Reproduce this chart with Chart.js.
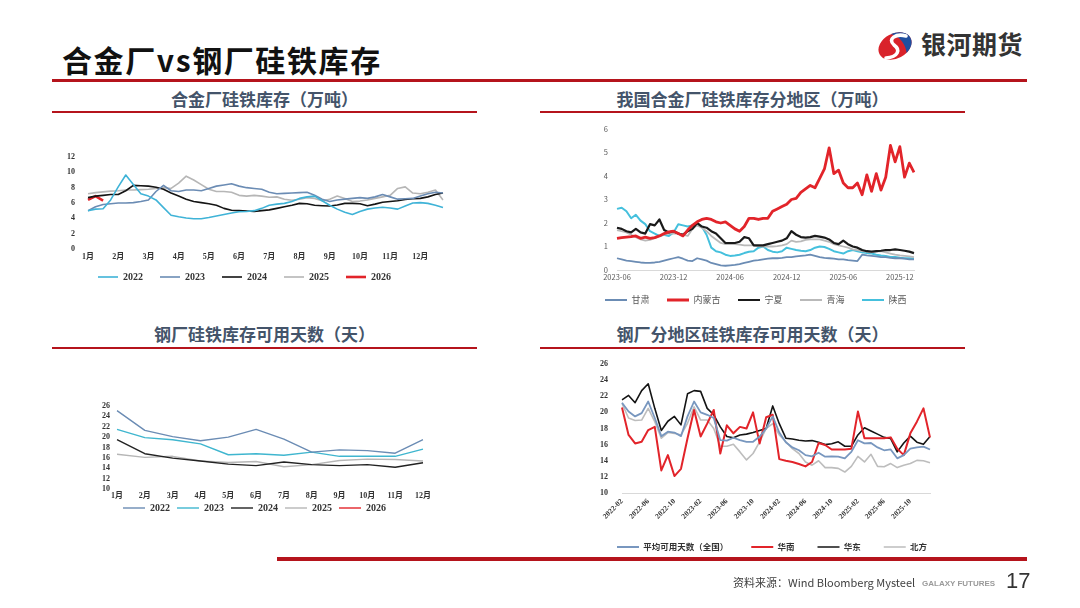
<!DOCTYPE html>
<html><head><meta charset="utf-8">
<script src="https://cdn.jsdelivr.net/npm/chart.js@4.4.1/dist/chart.umd.min.js"></script>
<style>
html,body{margin:0;padding:0;background:#fff;}
#page{position:relative;width:1080px;height:608px;overflow:hidden;font-family:'Noto Sans CJK SC','Noto Sans',sans-serif;background:#fff;}
.title{position:absolute;left:62px;top:44px;font-size:30px;line-height:30px;font-weight:700;color:#111;letter-spacing:1.6px;white-space:nowrap;}
.rule{position:absolute;background:#b5141c;}
.sub{position:absolute;font-size:17px;line-height:20px;font-weight:700;color:#44546a;text-align:center;white-space:nowrap;}
.logoText{position:absolute;left:921px;top:30px;font-size:25px;line-height:26px;font-weight:700;color:#333;letter-spacing:0.5px;white-space:nowrap;}
.foot{position:absolute;top:574px;font-size:11px;line-height:16px;color:#404040;white-space:nowrap;}
canvas{position:absolute;}
</style></head>
<body><div id="page">
  <div class="title">合金厂vs钢厂硅铁库存</div>
  <div class="rule" style="left:52px;top:79px;width:975px;height:3px;"></div>
  <svg style="position:absolute;left:875px;top:28px;" width="40" height="36" viewBox="0 0 40 36">
    <g transform="rotate(-28 20 18)">
      <ellipse cx="20" cy="18" rx="17.5" ry="12.5" fill="#d9222a"/>
      <path d="M22 5.6 A17.5 12.5 0 0 1 37.5 18 A17.5 12.5 0 0 1 27 29.6 C30 22 29 12 22 5.6 Z" fill="#1f4f9f"/>
    </g>
    <path d="M31 8 C21 5 12 11 19 17 C26 22 23 29 11 30" stroke="#fff" stroke-width="3.6" fill="none" stroke-linecap="round"/>
  </svg>
  <div class="logoText">银河期货</div>

  <div class="sub" style="left:52px;top:89px;width:425px;">合金厂硅铁库存（万吨）</div>
  <div class="rule" style="left:52px;top:111px;width:425px;height:1.5px;"></div>
  <div class="sub" style="left:540px;top:89px;width:425px;">我国合金厂硅铁库存分地区（万吨）</div>
  <div class="rule" style="left:540px;top:111px;width:425px;height:1.5px;"></div>
  <div class="sub" style="left:52px;top:324px;width:425px;">钢厂硅铁库存可用天数（天）</div>
  <div class="rule" style="left:52px;top:347px;width:425px;height:1.5px;"></div>
  <div class="sub" style="left:540px;top:324px;width:425px;">钢厂分地区硅铁库存可用天数（天）</div>
  <div class="rule" style="left:540px;top:347px;width:425px;height:1.5px;"></div>

  <canvas id="c1" width="420" height="178" style="left:41px;top:132px;"></canvas>
  <canvas id="c2" width="365" height="226" style="left:575px;top:104px;"></canvas>
  <canvas id="c3" width="360" height="159" style="left:78px;top:381px;"></canvas>
  <canvas id="c4" width="375" height="236" style="left:585px;top:339px;"></canvas>

  <div class="rule" style="left:277px;top:557px;width:750px;height:4px;"></div>
  <div class="foot" style="left:733px;">资料来源：Wind Bloomberg Mysteel</div>
  <div class="foot" style="left:922px;top:576px;font-size:8px;font-weight:700;color:#9a9a9a;letter-spacing:0;font-family:'Liberation Sans',sans-serif;">GALAXY FUTURES</div>
  <div class="foot" style="left:1006px;top:569px;font-size:22px;line-height:24px;color:#333;font-family:'Liberation Sans',sans-serif;">17</div>
</div>
<script>
// ---------- Chart 1: 合金厂硅铁库存（万吨）, weekly ----------
const monthLabels = ['1月','2月','3月','4月','5月','6月','7月','8月','9月','10月','11月','12月'];
const weeksPerMonth = 4;
const inv2022 = [5.0,5.2,5.25,6.4,8.1,9.65,8.4,7.2,6.9,6.4,5.4,4.4,4.2,4.05,3.95,3.95,4.1,4.3,4.5,4.7,4.85,4.9,5.0,5.3,5.7,5.85,5.95,6.2,6.6,6.8,6.9,6.3,5.7,5.2,4.8,4.5,4.9,5.2,5.35,5.45,5.35,5.2,5.6,6.0,6.05,5.95,5.7,5.4];
const inv2023 = [5.0,5.5,5.8,5.9,6.0,6.0,6.05,6.2,6.4,7.5,8.3,7.6,7.5,7.7,7.7,7.6,7.9,8.2,8.35,8.5,8.2,8.0,7.9,7.8,7.4,7.2,7.25,7.3,7.35,7.4,7.0,6.5,6.2,6.4,6.5,6.6,6.7,6.6,6.8,7.1,6.8,6.5,6.55,6.6,6.9,7.2,7.4,7.3];
const inv2024 = [6.7,6.9,7.0,7.1,7.1,7.6,8.3,8.25,8.2,8.05,7.8,7.3,6.9,6.5,6.2,6.05,5.9,5.7,5.3,5.05,5.0,4.95,4.9,5.0,5.1,5.3,5.5,5.7,5.95,5.9,5.7,5.65,5.6,5.75,5.95,5.95,5.9,5.65,5.85,6.1,6.2,6.3,6.45,6.55,6.6,6.8,7.1,7.3];
const inv2025 = [7.2,7.35,7.45,7.55,7.6,7.7,7.7,7.75,7.8,7.9,8.0,7.9,8.6,9.5,9.0,8.4,7.8,7.5,7.5,7.4,7.0,6.9,7.0,6.9,6.75,6.8,6.5,6.35,6.5,6.7,6.6,6.3,6.5,6.9,6.6,6.2,6.25,6.4,6.6,6.8,7.0,7.9,8.1,7.3,7.2,7.4,7.7,6.4];
const inv2026 = [6.4,6.9,6.3];
const invYTicks = {min:0, max:12, step:2};

// ---------- Chart 2: 我国合金厂硅铁库存分地区（万吨）, half-monthly ----------
const regionStart = {year:2023, month:6};
const regionPoints = 64;
const regionTickLabels = ['2023-06','2023-12','2024-06','2024-12','2025-06','2025-12'];
const gansu = [0.5,0.45,0.4,0.38,0.35,0.32,0.3,0.3,0.32,0.35,0.4,0.45,0.5,0.55,0.48,0.4,0.38,0.5,0.45,0.4,0.3,0.25,0.2,0.18,0.2,0.22,0.25,0.3,0.35,0.4,0.42,0.45,0.48,0.5,0.5,0.52,0.55,0.55,0.58,0.6,0.62,0.65,0.6,0.55,0.52,0.5,0.48,0.45,0.45,0.42,0.4,0.38,0.65,0.62,0.6,0.58,0.55,0.55,0.52,0.5,0.5,0.48,0.45,0.45];
const neimenggu = [1.35,1.38,1.4,1.42,1.45,1.35,1.4,1.35,1.38,1.45,1.55,1.62,1.65,1.55,1.45,1.7,1.9,2.05,2.15,2.2,2.15,2.05,2.0,2.05,1.9,1.75,1.65,1.85,2.2,2.2,2.15,2.2,2.2,2.5,2.6,2.7,2.8,3.0,3.05,3.3,3.45,3.6,3.5,3.9,4.3,5.2,4.1,4.25,3.7,3.5,3.5,3.7,3.2,4.05,3.35,4.1,3.4,3.95,5.3,4.6,5.25,3.95,4.55,4.15];
const ningxia = [1.8,1.75,1.65,1.6,1.75,1.6,1.55,1.95,1.9,2.15,1.7,1.6,1.65,1.55,1.5,1.65,1.75,2.0,1.85,1.8,1.65,1.55,1.35,1.15,1.15,1.15,1.2,1.4,1.35,1.05,1.05,1.05,1.1,1.15,1.2,1.25,1.35,1.65,1.5,1.4,1.38,1.4,1.45,1.42,1.38,1.3,1.15,1.1,1.25,1.1,1.0,0.95,0.85,0.8,0.78,0.8,0.82,0.85,0.85,0.88,0.85,0.82,0.78,0.72];
const qinghai = [1.7,1.65,1.6,1.5,1.4,1.3,1.25,1.28,1.35,1.45,1.5,1.55,1.55,1.55,1.5,1.45,1.75,1.9,1.8,1.65,1.45,1.3,1.15,1.1,1.1,1.1,1.08,1.05,1.05,1.05,1.02,1.0,1.0,1.0,1.02,1.05,1.1,1.25,1.2,1.22,1.28,1.3,1.3,1.3,1.25,1.2,1.1,1.05,1.0,0.95,0.88,0.85,0.8,0.78,0.75,0.78,0.8,0.75,0.7,0.65,0.62,0.6,0.58,0.55];
const shaanxi = [2.6,2.65,2.5,2.2,2.35,2.1,1.95,1.65,1.55,1.45,1.5,1.45,1.6,1.95,1.9,1.85,1.9,1.9,1.85,1.5,0.95,0.8,0.75,0.65,0.6,0.62,0.65,0.72,0.78,0.8,0.95,1.0,0.85,0.78,0.75,0.8,0.95,0.9,0.85,0.82,0.8,0.85,0.95,1.0,0.98,0.9,0.8,0.75,0.7,0.8,0.85,0.8,0.75,0.72,0.7,0.65,0.62,0.6,0.55,0.55,0.52,0.5,0.5,0.48];
const regionYTicks = {min:0, max:6, step:1};

// ---------- Chart 3: 钢厂硅铁库存可用天数（天）, monthly ----------
const monthTickLabels = ['1月','2月','3月','4月','5月','6月','7月','8月','9月','10月','11月','12月'];
const days2022 = [25.1,21.3,20.1,19.3,20.0,21.5,19.6,17.1,17.55,17.4,16.9,19.5];
const days2023 = [21.5,19.9,19.5,18.7,16.6,16.8,16.5,17.1,16.3,16.3,16.3,17.7];
const days2024 = [19.5,16.8,15.95,15.4,14.8,14.5,15.2,14.7,14.5,14.7,14.2,15.05];
const days2025 = [16.7,16.1,16.3,15.4,15.1,15.3,14.3,14.7,15.5,15.75,15.7,15.4];
const days2026 = [];
const daysYTicks = {min:10, max:26, step:2};

// ---------- Chart 4: 钢厂分地区硅铁库存可用天数（天）, monthly 2022-02..2026-01 ----------
const areaStart = {year:2022, month:2};
const areaPoints = 48;
const areaNational = [21.2,20.1,19.5,19.9,21.35,19.3,17.05,17.6,17.5,17.05,19.5,21.35,20.0,19.7,19.3,16.55,16.5,16.85,16.55,16.35,16.35,17.0,18.0,19.5,17.5,16.3,15.65,15.3,14.7,14.55,15.0,14.5,14.55,14.5,14.3,15.1,16.55,16.15,16.2,15.65,15.3,15.4,14.3,14.7,15.5,15.65,15.75,15.4];
const areaSouth = [20.6,17.2,16.15,16.35,17.8,18.2,12.8,14.7,12.1,13.0,16.8,20.3,17.0,18.6,20.3,14.9,18.4,17.4,18.2,18.0,20.0,16.15,19.4,19.7,14.2,14.0,13.85,13.6,13.3,13.85,16.2,15.95,15.4,15.4,15.4,15.5,20.1,16.8,16.8,16.8,16.8,16.9,15.5,14.7,17.4,18.85,20.5,16.9];
const areaEast = [21.55,22.1,21.2,22.7,23.55,20.5,17.75,18.9,19.5,18.45,22.3,22.7,22.6,20.5,19.7,18.2,17.0,16.85,17.2,17.3,17.5,17.75,18.0,20.8,18.6,16.8,16.7,16.55,16.45,16.5,16.3,16.0,16.1,16.35,15.8,15.8,17.2,18.1,17.7,17.3,16.9,16.75,15.1,16.2,17.05,16.3,16.05,17.0];
const areaNorth = [21.1,19.3,19.0,19.05,20.5,18.85,16.8,17.5,17.4,17.2,18.65,20.7,19.05,19.05,18.0,15.8,15.8,16.05,15.1,14.1,14.9,16.35,18.0,18.6,17.2,16.35,15.5,14.9,13.85,13.45,14.0,13.15,13.15,13.05,12.6,13.3,14.55,13.85,14.8,13.3,13.25,13.65,13.15,13.45,13.65,14.05,14.0,13.75];
const areaYTicks = {min:10, max:26, step:2};

// ---------- colours ----------
const C_CYAN = '#3fb3d7', C_STEEL = '#6b8cb4', C_BLACK = '#141414', C_GRAY = '#b6b6b6', C_RED = '#e2242a';

// ---------- categories built from the lists above ----------
const weekCats = [];
monthLabels.forEach(m => { for (let w = 1; w <= weeksPerMonth; w++) weekCats.push(m + '第' + w + '周'); });
const pad2 = n => (n < 10 ? '0' : '') + n;
const regionCats = [];
for (let k = 0; k < regionPoints; k++) {
  const mIdx = regionStart.month - 1 + Math.floor(k / 2);
  const y = regionStart.year + Math.floor(mIdx / 12);
  regionCats.push(y + '-' + pad2(mIdx % 12 + 1) + (k % 2 ? '下' : '上'));
}
const areaCats = [];
for (let k = 0; k < areaPoints; k++) {
  const mIdx = areaStart.month - 1 + k;
  areaCats.push((areaStart.year + Math.floor(mIdx / 12)) + '-' + pad2(mIdx % 12 + 1));
}

const SERIF = "'Liberation Serif','Noto Sans CJK SC',serif";
const SANS = "'Noto Sans CJK SC','Liberation Sans',sans-serif";

// places the legend row: first item starts at x, text centred on y (canvas coords)
const legendPlacer = {
  id: 'legendPlacer',
  beforeDraw(chart, args, opts) {
    const lg = chart.legend;
    if (!lg || opts.x == null) return;
    const h = lg.height;
    lg.left = opts.x - opts.pad;
    lg.right = lg.left + 3000;
    lg.top = opts.y - opts.pad - opts.fs / 2;
    lg.bottom = lg.top + h;
  }
};

function ds(label, data, color, width) {
  return {label, data, borderColor: color, backgroundColor: color, borderWidth: width,
    pointRadius: 0, pointHoverRadius: 0, tension: 0, fill: false, borderJoinStyle: 'round'};
}

function makeChart(id, labels, datasets, o) {
  const cv = document.getElementById(id);
  const cl = parseFloat(cv.style.left), ct = parseFloat(cv.style.top);
  const padding = {top: o.area.top - ct, right: 5, left: 0, bottom: 5};
  o.yW = o.area.left - cl;
  const cfg = {
    type: 'line',
    data: {labels, datasets},
    plugins: [legendPlacer],
    options: {
      responsive: false, animation: false, events: [],
      layout: {padding},
      plugins: {
        tooltip: {enabled: false},
        legendPlacer: {x: o.legend.x - cl, y: o.legend.y - ct, pad: o.legend.pad, fs: o.legend.font.size},
        legend: {position: 'bottom', align: 'start',
          labels: {usePointStyle: true, pointStyle: 'line', pointStyleWidth: o.legend.boxW,
            font: o.legend.font, color: o.legend.color, padding: o.legend.pad}}
      },
      scales: {
        x: {type: 'category', offset: false,
          grid: {display: false, drawTicks: false},
          border: {display: o.xBorder, color: '#d9d9d9', width: 1},
          ticks: {autoSkip: false, maxRotation: o.rot, minRotation: o.rot, padding: o.xPad,
            font: o.xFont, color: o.tickColor, callback: o.xcb},
          afterFit: s => { s.height = o.xH; }},
        y: {min: o.yt.min, max: o.yt.max,
          grid: {display: false, drawTicks: false}, border: {display: false},
          ticks: {autoSkip: false, stepSize: o.yt.step, padding: o.yPad, font: o.yFont, color: o.tickColor},
          afterFit: s => { s.width = o.yW; }}
      }
    }
  };
  const chart = new Chart(cv, cfg);
  const lp = cfg.options.layout.padding;
  for (let k = 0; k < 5; k++) {
    const ca = chart.chartArea;
    const dT = (o.area.top - ct) - ca.top, dB = ca.bottom - (o.area.bottom - ct);
    const dL = (o.area.left - cl) - ca.left, dR = ca.right - (o.area.right - cl);
    if (Math.abs(dT) + Math.abs(dB) + Math.abs(dL) + Math.abs(dR) < 0.2) break;
    lp.top += dT; lp.bottom += dB; lp.right += dR; o.yW += dL;
    chart.update();
  }
  return chart;
}

makeChart('c1', weekCats, [
  ds('2022', inv2022, C_CYAN, 1.6),
  ds('2023', inv2023, C_STEEL, 1.6),
  ds('2024', inv2024, C_BLACK, 1.6),
  ds('2025', inv2025, C_GRAY, 1.6),
  ds('2026', inv2026, C_RED, 2.6)
], {area: {left: 88, right: 443, top: 157, bottom: 249},
  legend: {x: 98, y: 277, pad: 17, boxW: 20, color: '#333', font: {family: SERIF, size: 10, weight: 'bold'}},
  xBorder: false, rot: 0, xPad: 3, xH: 16, tickColor: '#333',
  xFont: {family: SERIF, size: 8, weight: 'bold'}, yFont: {family: SERIF, size: 8, weight: 'bold'},
  xcb: (v, i) => (i % weeksPerMonth === 0 ? monthLabels[i / weeksPerMonth] : ''),
  yt: invYTicks, yPad: 13});

makeChart('c2', regionCats, [
  ds('甘肃', gansu, C_STEEL, 1.8),
  ds('内蒙古', neimenggu, C_RED, 2.8),
  ds('宁夏', ningxia, '#1a1a1a', 2.2),
  ds('青海', qinghai, '#b9b9b9', 1.8),
  ds('陕西', shaanxi, '#45c0dd', 2.0)
], {area: {left: 617, right: 914, top: 129, bottom: 270},
  legend: {x: 605, y: 300, pad: 17.5, boxW: 22, color: '#595959', font: {family: SANS, size: 9}},
  xBorder: true, rot: 0, xPad: 3, xH: 14, tickColor: '#595959',
  xFont: {family: SANS, size: 7.5}, yFont: {family: SANS, size: 7.5},
  xcb: (v, i) => (i % 12 === 0 ? regionTickLabels[i / 12] : ''),
  yt: regionYTicks, yPad: 9});

makeChart('c3', monthTickLabels, [
  ds('2022', days2022, C_STEEL, 1.4),
  ds('2023', days2023, '#3fb6cf', 1.4),
  ds('2024', days2024, '#222', 1.4),
  ds('2025', days2025, C_GRAY, 1.4),
  ds('2026', days2026, C_RED, 1.4)
], {area: {left: 117, right: 423, top: 406, bottom: 489},
  legend: {x: 123, y: 508, pad: 7, boxW: 22, color: '#333', font: {family: SERIF, size: 10, weight: 'bold'}},
  xBorder: false, rot: 0, xPad: 2, xH: 14, tickColor: '#333',
  xFont: {family: SERIF, size: 8, weight: 'bold'}, yFont: {family: SERIF, size: 8, weight: 'bold'},
  xcb: (v, i) => monthTickLabels[i],
  yt: daysYTicks, yPad: 7});

makeChart('c4', areaCats, [
  ds('平均可用天数（全国）', areaNational, '#7897bf', 1.8),
  ds('华南', areaSouth, C_RED, 2.0),
  ds('华东', areaEast, C_BLACK, 1.6),
  ds('北方', areaNorth, '#bdbdbd', 1.6)
], {area: {left: 622, right: 930, top: 364, bottom: 493},
  legend: {x: 617, y: 547, pad: 23, boxW: 22, color: '#333', font: {family: SANS, size: 8.5, weight: 'bold'}},
  xBorder: true, rot: 45, xPad: 4, xH: 34, tickColor: '#333',
  xFont: {family: SERIF, size: 7.5, weight: 'bold'}, yFont: {family: SERIF, size: 8, weight: 'bold'},
  xcb: (v, i) => (i % 4 === 0 ? areaCats[i] : ''),
  yt: areaYTicks, yPad: 14});
</script>
</body></html>
